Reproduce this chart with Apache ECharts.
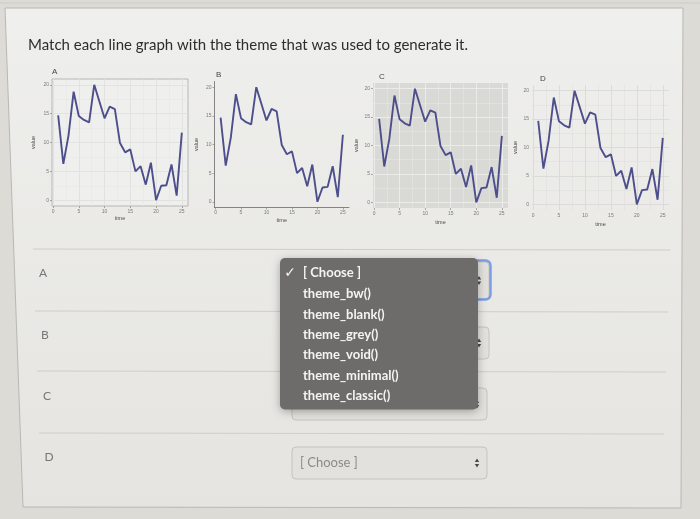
<!DOCTYPE html>
<html>
<head>
<meta charset="utf-8">
<script src="https://cdn.jsdelivr.net/npm/echarts@6/dist/echarts.min.js"></script>
<style>
html,body{margin:0;padding:0;background:#dcdbd6;}
#chart{width:700px;height:519px;}
</style>
</head>
<body>
<div id="chart"></div>
<script>
// ---- data ----
const timeValues = [1, 2, 3, 4, 5, 6, 7, 8, 9, 10, 11, 12, 13, 14, 15, 16, 17, 18, 19, 20, 21, 22, 23, 24, 25];
const seriesValues = [14.7, 6.3, 11.2, 18.8, 14.6, 13.9, 13.5, 20.0, 17.1, 14.2, 16.2, 15.8, 9.9, 8.3, 8.8, 5.0, 5.9, 2.7, 6.5, 0.0, 2.5, 2.6, 6.2, 0.8, 11.7];
const panelTitles = ['A', 'B', 'C', 'D'];
const xTickValues = [0, 5, 10, 15, 20, 25];
const yTickValues = [0, 5, 10, 15, 20];
const xMinorValues = [0, 2.5, 5, 7.5, 10, 12.5, 15, 17.5, 20, 22.5, 25];
const yMinorValues = [0, 2.5, 5, 7.5, 10, 12.5, 15, 17.5, 20];
const xAxisTitle = 'time';
const yAxisTitle = 'value';
const questionText = 'Match each line graph with the theme that was used to generate it.';
const rowLabels = ['A', 'B', 'C', 'D'];
const menuOptions = ['[ Choose ]', 'theme_bw()', 'theme_blank()', 'theme_grey()', 'theme_void()', 'theme_minimal()', 'theme_classic()'];
const placeholderText = '[ Choose ]';

// ---- layout / styles ----
const panels = [
  { left: 52, top: 79, width: 136, height: 127, theme: 'bw', titleX: 47, titleY: 63, nameGapX: 9, nameGapY: 16 },
  { left: 214.5, top: 81.5, width: 134.5, height: 126, theme: 'classic', titleX: 211, titleY: 66, nameGapX: 10, nameGapY: 15 },
  { left: 373, top: 83, width: 135, height: 125, theme: 'grey', titleX: 374, titleY: 68, nameGapX: 11, nameGapY: 14 },
  { left: 532, top: 85, width: 137, height: 125, theme: 'minimal', titleX: 535, titleY: 70, nameGapX: 11, nameGapY: 14 }
];
const lineColor = '#4d4e8c';
const tickLabelColor = '#7a7a7a';
const axisTitleColor = '#4a4a4a';

const grids = [], xAxes = [], yAxes = [], series = [], titles = [];

panels.forEach((p, i) => {
  const grid = { left: p.left, top: p.top, width: p.width, height: p.height, containLabel: false };
  let majorColor = '#dcdcda', minorColor = '#e4e4e2', majorW = 0.8, minorW = 0.5;
  let showGrid = true, showTicks = true, showAxisLine = false, axisLineColor = '#555';
  if (p.theme === 'bw') {
    grid.show = true; grid.backgroundColor = '#efefed'; grid.borderColor = '#a9a9a7'; grid.borderWidth = 0.8;
  } else if (p.theme === 'classic') {
    showGrid = false; showAxisLine = true; axisLineColor = '#6a6a6a';
  } else if (p.theme === 'grey') {
    grid.show = true; grid.backgroundColor = '#d9d9d6'; grid.borderWidth = 0;
    majorColor = '#f3f3f1'; minorColor = '#e8e8e6';
  } else if (p.theme === 'minimal') {
    showTicks = false; majorColor = '#d6d6d4'; minorColor = '#dedddb';
  }
  grids.push(grid);
  titles.push({ text: panelTitles[i], left: p.titleX, top: p.titleY, textStyle: { fontSize: 8, fontWeight: 'normal', color: '#444', fontFamily: 'Liberation Sans' } });

  // main axes
  xAxes.push({
    type: 'value', gridIndex: i, min: -0.2, max: 26.2, position: 'bottom',
    name: xAxisTitle, nameLocation: 'middle', nameGap: p.nameGapX,
    nameTextStyle: { fontSize: 5.5, color: axisTitleColor, fontFamily: 'Liberation Sans' },
    axisLine: { show: showAxisLine, onZero: false, lineStyle: { color: axisLineColor, width: 0.8 } },
    axisTick: { show: showTicks, length: 2, customValues: xTickValues, lineStyle: { color: '#777', width: 0.6 } },
    axisLabel: { customValues: xTickValues, fontSize: 5, color: tickLabelColor, margin: 3, fontFamily: 'Liberation Sans' },
    splitLine: { show: showGrid, lineStyle: { color: majorColor, width: majorW } }
  });
  yAxes.push({
    type: 'value', gridIndex: i, min: -1, max: 21, position: 'left',
    name: yAxisTitle, nameLocation: 'middle', nameGap: p.nameGapY,
    nameTextStyle: { fontSize: 5.5, color: axisTitleColor, fontFamily: 'Liberation Sans' },
    axisLine: { show: showAxisLine, onZero: false, lineStyle: { color: axisLineColor, width: 0.8 } },
    axisTick: { show: showTicks, length: 2, customValues: yTickValues, lineStyle: { color: '#777', width: 0.6 } },
    axisLabel: { customValues: yTickValues, fontSize: 5, color: tickLabelColor, margin: 3, fontFamily: 'Liberation Sans' },
    splitLine: { show: showGrid, lineStyle: { color: majorColor, width: majorW } }
  });
  // minor grid axes (hidden, only grid lines)
  xAxes.push({
    type: 'value', gridIndex: i, min: -0.2, max: 26.2, position: 'top',
    axisLine: { show: false }, axisLabel: { show: false },
    axisTick: { show: false, customValues: xMinorValues },
    splitLine: { show: showGrid, lineStyle: { color: minorColor, width: minorW } }
  });
  yAxes.push({
    type: 'value', gridIndex: i, min: -1, max: 21, position: 'right',
    axisLine: { show: false }, axisLabel: { show: false },
    axisTick: { show: false, customValues: yMinorValues },
    splitLine: { show: showGrid, lineStyle: { color: minorColor, width: minorW } }
  });
  series.push({
    type: 'line', xAxisIndex: i * 2, yAxisIndex: i * 2, showSymbol: false, silent: true, animation: false,
    data: timeValues.map((t, k) => [t, seriesValues[k]]),
    lineStyle: { color: lineColor, width: 1.9 }, z: 5
  });
});

// ---- page graphics ----
const graphics = [];
graphics.push({ type: 'line', shape: { x1: 0, y1: 3, x2: 700, y2: 3 }, style: { stroke: '#cfceca', lineWidth: 1 }, z: -10 });
graphics.push({
  type: 'polygon', z: -10,
  shape: { points: [[5, 8], [683, 8], [681, 508], [23, 507]] },
  style: {
    fill: new echarts.graphic.LinearGradient(0, 0, 0, 1, [{ offset: 0, color: '#efefed' }, { offset: 1, color: '#e5e4e0' }]),
    stroke: '#b9b8b4', lineWidth: 1
  }
});
graphics.push({ type: 'text', left: 28, top: 38, style: { text: questionText, fontSize: 15, fill: '#2d2d2d', fontFamily: 'Lato' } });
[[33, 249, 670, 250], [35, 311, 668, 312], [37, 371, 666, 372], [39, 433, 664, 434]].forEach(s => {
  graphics.push({ type: 'line', shape: { x1: s[0], y1: s[1], x2: s[2], y2: s[3] }, style: { stroke: '#cfcecb', lineWidth: 1 }, z: -5 });
});
const rowY = [273, 335, 396, 457];
const rowX = [43, 45, 47, 49];
rowLabels.forEach((t, i) => {
  graphics.push({ type: 'text', x: rowX[i], y: rowY[i], style: { text: t, fontSize: 12, fill: '#777', fontFamily: 'Lato', align: 'center', verticalAlign: 'middle' } });
});
function arrows(cx, cy) {
  graphics.push({ type: 'polygon', shape: { points: [[cx - 2.2, cy - 1], [cx + 2.2, cy - 1], [cx, cy - 4.5]] }, style: { fill: '#4a4a4a' }, z: 3 });
  graphics.push({ type: 'polygon', shape: { points: [[cx - 2.2, cy + 1], [cx + 2.2, cy + 1], [cx, cy + 4.5]] }, style: { fill: '#4a4a4a' }, z: 3 });
}
const boxes = [[292, 262, 197, 37], [292, 327, 197, 32], [292, 388, 195, 32], [292, 447, 195, 32]];
boxes.forEach((b, i) => {
  graphics.push({ type: 'rect', shape: { x: b[0], y: b[1], width: b[2], height: b[3], r: 4 }, style: { fill: '#e2e1dd', stroke: '#c4c3bf', lineWidth: 1 }, z: 1 });
  arrows(b[0] + b[2] - 10, b[1] + b[3] / 2);
});
graphics.push({ type: 'rect', shape: { x: 290, y: 260.5, width: 200.5, height: 39, r: 5 }, style: { fill: null, stroke: '#7c9de3', lineWidth: 2.5 }, z: 2 });
graphics.push({ type: 'text', x: 300, y: 463, style: { text: placeholderText, fontSize: 13, fill: '#8a8a88', fontFamily: 'Lato', verticalAlign: 'middle' }, z: 3 });
graphics.push({ type: 'rect', shape: { x: 280, y: 258, width: 198, height: 151.5, r: 5 }, style: { fill: '#6d6c6a', shadowBlur: 8, shadowColor: 'rgba(0,0,0,0.3)', shadowOffsetY: 2 }, z: 10 });
const menuY = [273, 294, 314.5, 335, 355, 375.5, 395.5];
menuOptions.forEach((t, i) => {
  graphics.push({ type: 'text', x: 303, y: menuY[i], style: { text: t, fontSize: 13, fontWeight: 'bold', fill: '#f4f4f4', fontFamily: 'Lato', verticalAlign: 'middle' }, z: 11 });
});
graphics.push({ type: 'text', x: 290, y: 273, style: { text: '\u2713', fontSize: 14, fontWeight: 'bold', fill: '#f4f4f4', fontFamily: 'DejaVu Sans', align: 'center', verticalAlign: 'middle' }, z: 11 });

const chart = echarts.init(document.getElementById('chart'), null, { renderer: 'canvas' });
chart.setOption({
  backgroundColor: '#dcdbd6',
  animation: false,
  title: titles,
  grid: grids,
  xAxis: xAxes,
  yAxis: yAxes,
  series: series,
  graphic: graphics
});
</script>
</body>
</html>
